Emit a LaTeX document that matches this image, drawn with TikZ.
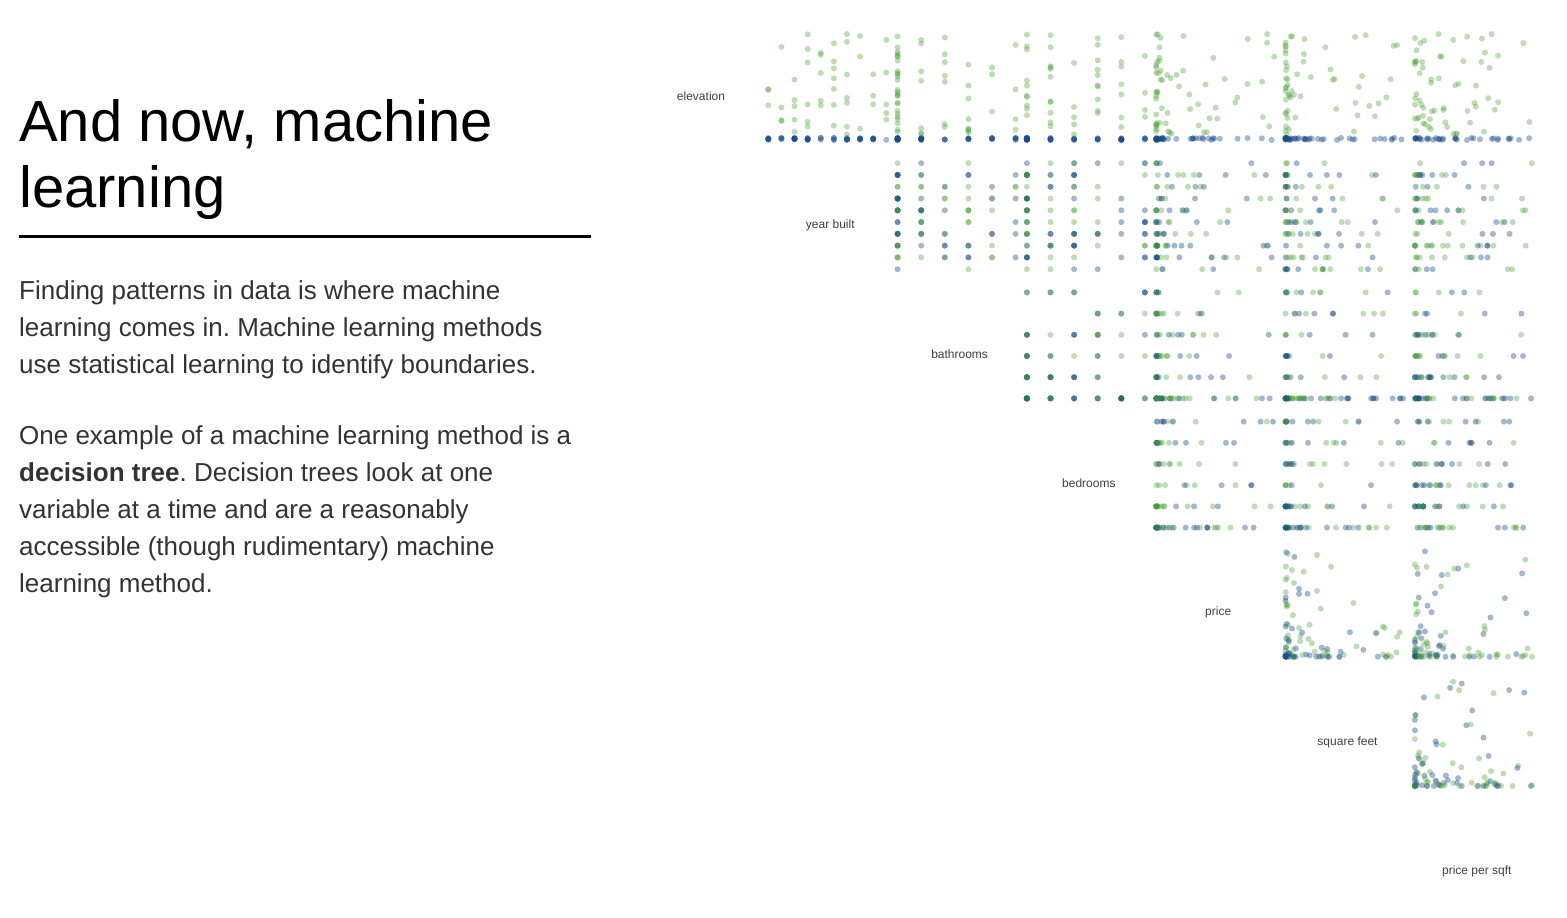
\documentclass[tikz,border=0pt]{standalone}
\usepackage{fontspec}
\setmainfont{Liberation Sans}
\frenchspacing
\definecolor{gdot}{RGB}{70,160,50}
\definecolor{bdot}{RGB}{25,75,140}
\definecolor{txt}{RGB}{51,51,51}
\newcommand\getv[2]{%
 \pgfmathsetmacro\uu{rnd}%
 \ifcase#1
   \ifnum#2=1 \pgfmathsetmacro\vv{0.02*\uu}\else\pgfmathsetmacro\vv{0.05+0.95*\uu^1.3}\fi
 \or \pgfmathsetmacro\vv{round(\uu*9)/9}%
 \or \pgfmathsetmacro\vv{floor(\uu^2*6)/5}%
 \or \pgfmathsetmacro\vv{floor(\uu^1.6*6)/5}%
 \or \pgfmathsetmacro\vv{\uu^3.5}%
 \or \pgfmathsetmacro\vv{\uu^3.5}%
 \or \pgfmathsetmacro\vv{\uu^2.5}%
 \fi}
\tikzset{lbl/.style={font=\fontsize{12}{14}\selectfont,text=black!75},
 body/.style={anchor=base west,font=\fontsize{26}{30}\selectfont,text=txt,inner sep=0},
 gd/.style={fill=gdot,fill opacity=0.35},bd/.style={fill=bdot,fill opacity=0.4}}
\begin{document}
\begin{tikzpicture}[x=1pt,y=-1pt]
\useasboundingbox (0,0) rectangle (1567,918);
\fill[white] (0,0) rectangle (1567,918);
\node[anchor=base west,inner sep=0,font=\fontsize{58}{66}\selectfont] (t1) at (19,141) {And now, machine};
\node[anchor=base west,inner sep=0,font=\fontsize{58}{66}\selectfont] (t2) at (19,207) {learning};
\draw[line width=3pt] (19,236) -- (591,236);
\node[body] (b1) at (19,299) {Finding patterns in data is where machine};
\node[body] (b2) at (19,336) {learning comes in. Machine learning methods};
\node[body] (b3) at (19,373) {use statistical learning to identify boundaries.};
\node[body] (b4) at (19,444) {One example of a machine learning method is a};
\node[body] (b5) at (19,481) {\textbf{decision tree}. Decision trees look at one};
\node[body] (b6) at (19,518) {variable at a time and are a reasonably};
\node[body] (b7) at (19,555) {accessible (though rudimentary) machine};
\node[body] (b8) at (19,592) {learning method.};
\foreach \n [count=\i from 0] in {elevation,year built,bathrooms,bedrooms,price,square feet,price per sqft}
  \node[lbl] (l\i) at ({701+129.3*\i},{96+129.2*\i}) {\n};
\pgfmathsetseed{42}
\foreach \r in {0,...,5}{
 \pgfmathtruncatemacro\cs{\r+1}
 \foreach \c in {\cs,...,6}{
  \foreach \k in {1,...,100}{
   \pgfmathtruncatemacro\isb{rnd<0.45?1:0}
   \getv{\c}{\isb}\let\vx\vv
   \getv{\r}{\isb}\let\vy\vv
   \pgfmathsetmacro\px{701+129.3*\c-62+118*\vx}
   \pgfmathsetmacro\py{96+129.2*\r+44-106*\vy}
   \ifnum\isb=1 \fill[bd] (\px,\py) circle (3);
   \else \fill[gd] (\px,\py) circle (3);\fi
  }}}
\end{tikzpicture}
\end{document}
